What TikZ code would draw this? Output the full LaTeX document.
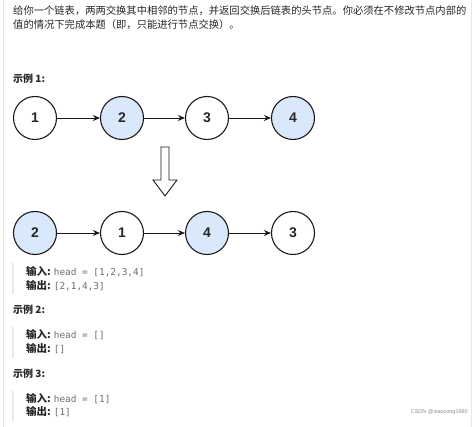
\documentclass[tikz,border=0pt]{standalone}
\usepackage{fontspec}
\setmainfont{Liberation Sans}
\newfontfamily\cjk{Noto Sans CJK SC}
\newfontfamily\codefont{DejaVu Sans Mono}
\usetikzlibrary{arrows.meta}
\definecolor{nodeblue}{HTML}{DAE8FC}
\definecolor{txt}{HTML}{262626}
\definecolor{codegray}{HTML}{6E6E6E}
\definecolor{framegray}{HTML}{E8E8E8}
\newcommand\lbl[1]{{\cjk\bfseries\fontsize{10.5}{12}\selectfont #1:}\hspace{3pt}}
\begin{document}
\begin{tikzpicture}[x=1pt,y=-1pt,
  lnode/.style={circle,draw=black!90,line width=1.1pt,minimum size=43pt,inner sep=0pt,
    font=\fontsize{14}{14}\selectfont\bfseries,text=txt,fill=white},
  bnode/.style={lnode,fill=nodeblue},
  link/.style={-{Stealth[length=7pt,width=6pt]},line width=0.9pt,draw=black!90},
  para/.style={anchor=west,inner sep=0pt,font=\cjk\fontsize{10.3}{12}\selectfont,text=txt},
  head/.style={anchor=west,inner sep=0pt,font=\cjk\fontsize{10}{12}\selectfont\bfseries,text=txt},
  codeline/.style={anchor=west,inner sep=0pt,font=\fontsize{9.4}{11}\selectfont,text=txt},
  bar/.style={draw=framegray,line width=1.6pt}
]
\useasboundingbox (0,0) rectangle (474,427);
\fill[white] (0,0) rectangle (474,427);
% frame lines
\draw[draw=framegray,line width=0.8pt] (3,0) -- (3,427);
\draw[draw=framegray,line width=0.8pt] (471,0) -- (471,427);

\node[para] (p1) at (13,11) {给你一个链表，两两交换其中相邻的节点，并返回交换后链表的头节点。你必须在不修改节点内部的};
\node[para] (p2) at (13,25) {值的情况下完成本题（即，只能进行节点交换）。};

\node[head] (ex1) at (13,79) {示例 1:};

% first list
\node[lnode] (a1) at (35,118) {1};
\node[bnode] (a2) at (122,118) {2};
\node[lnode] (a3) at (207,118) {3};
\node[bnode] (a4) at (293,118) {4};
\draw[link] (a1) -- (a2);
\draw[link] (a2) -- (a3);
\draw[link] (a3) -- (a4);

% hollow arrow
\draw[line width=0.9pt,draw=black!90,fill=white,line join=miter]
  (161,147) -- (169,147) -- (169,180) -- (177,180) -- (165,196) -- (153,180) -- (161,180) -- cycle;

% second list
\node[bnode] (b1) at (35,233) {2};
\node[lnode] (b2) at (122,233) {1};
\node[bnode] (b3) at (207,233) {4};
\node[lnode] (b4) at (293,233) {3};
\draw[link] (b1) -- (b2);
\draw[link] (b2) -- (b3);
\draw[link] (b3) -- (b4);

% example 1 output
\draw[bar] (13,263) -- (13,294);
\node[codeline] (i1) at (26,272) {\lbl{输入}{\codefont\color{codegray}head = [1,2,3,4]}};
\node[codeline] (o1) at (26,286) {\lbl{输出}{\codefont\color{codegray}[2,1,4,3]}};

\node[head] (ex2) at (13,310) {示例 2:};
\draw[bar] (13,327) -- (13,358);
\node[codeline] (i2) at (26,335) {\lbl{输入}{\codefont\color{codegray}head = []}};
\node[codeline] (o2) at (26,349) {\lbl{输出}{\codefont\color{codegray}[]}};

\node[head] (ex3) at (13,374) {示例 3:};
\draw[bar] (13,391) -- (13,421);
\node[codeline] (i3) at (26,399) {\lbl{输入}{\codefont\color{codegray}head = [1]}};
\node[codeline] (o3) at (26,412) {\lbl{输出}{\codefont\color{codegray}[1]}};

\node[anchor=east,inner sep=0pt,font=\fontsize{5.5}{6}\selectfont,text=black!45] (wm) at (468,412) {CSDN @xiaocong1990};
\end{tikzpicture}
\end{document}
